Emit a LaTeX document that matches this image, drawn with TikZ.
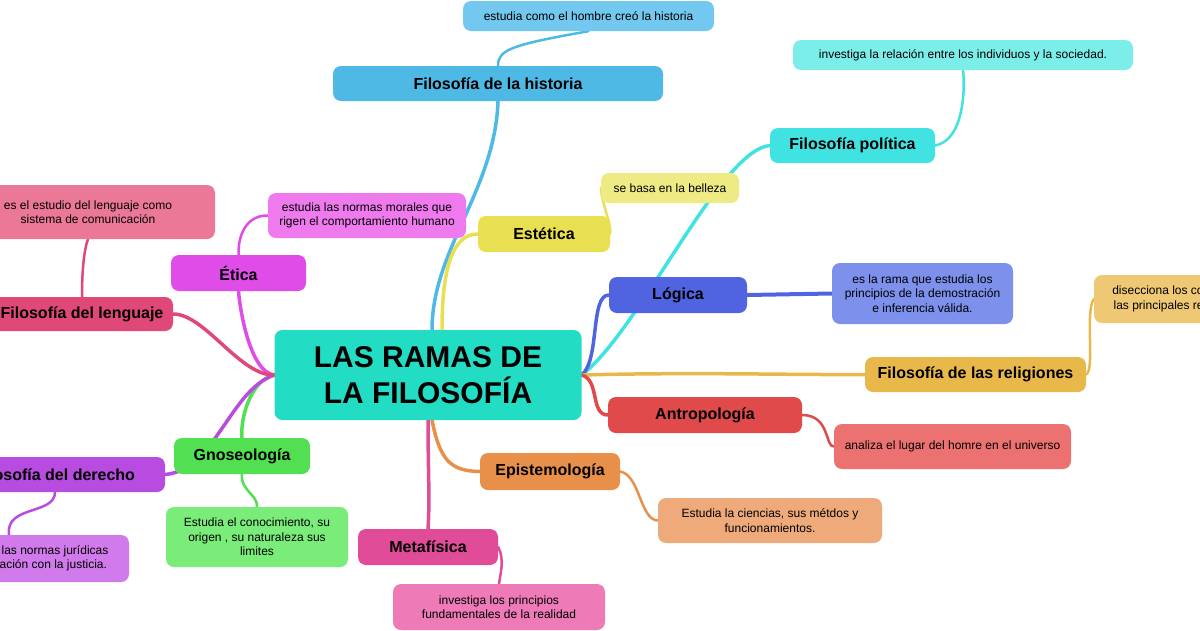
\documentclass[tikz,border=0pt]{standalone}
\usepackage{fontspec}
\setmainfont{Liberation Sans}
\usetikzlibrary{backgrounds}
\begin{document}
\begin{tikzpicture}[x=1pt,y=-1pt,
  box/.style={rounded corners=8pt,align=center,inner sep=2pt},
  br/.style={box,font=\bfseries\fontsize{16}{19}\selectfont},
  lf/.style={box,font=\fontsize{12}{14.5}\selectfont},
  ln/.style={line width=3.5pt,line cap=round},
  lk/.style={line width=2.5pt,line cap=round}]
\useasboundingbox (0,0) rectangle (1200,630);
\clip (0,0) rectangle (1200,630);
\definecolor{cC}{HTML}{22DCC4}
\definecolor{cH}{HTML}{4FB9E6}\definecolor{cHl}{HTML}{72C8EE}
\definecolor{cP}{HTML}{40E2E2}\definecolor{cPl}{HTML}{7CEEEA}
\definecolor{cE}{HTML}{E8E050}\definecolor{cEl}{HTML}{EEEA84}
\definecolor{cL}{HTML}{5064E2}\definecolor{cLl}{HTML}{7C90EC}
\definecolor{cR}{HTML}{E8B84A}\definecolor{cRl}{HTML}{EEC874}
\definecolor{cA}{HTML}{E04A4A}\definecolor{cAl}{HTML}{EC7272}
\definecolor{cS}{HTML}{E8904A}\definecolor{cSl}{HTML}{EEAA7A}
\definecolor{cM}{HTML}{E04C98}\definecolor{cMl}{HTML}{EE7AB8}
\definecolor{cG}{HTML}{52E052}\definecolor{cGl}{HTML}{7AEC7A}
\definecolor{cD}{HTML}{B84CE0}\definecolor{cDl}{HTML}{D07AEC}
\definecolor{cT}{HTML}{E04CE8}\definecolor{cTl}{HTML}{EE7AEE}
\definecolor{cN}{HTML}{E04878}\definecolor{cNl}{HTML}{EC7898}
\node[box,fill=cC,minimum width=307,minimum height=90,font=\bfseries\fontsize{30}{36}\selectfont] (c) at (428,375) {LAS RAMAS DE\\LA FILOSOFÍA};

\node[br,fill=cH,minimum width=330,minimum height=35] (h) at (498,83.5) {Filosofía de la historia};
\node[lf,fill=cHl,minimum width=251,minimum height=30] (hl) at (588.5,16) {estudia como el hombre creó la historia};
\node[br,fill=cP,minimum width=165,minimum height=35] (p) at (852.5,145.5) {Filosofía política};
\node[lf,fill=cPl,minimum width=340,minimum height=30] (pl) at (963,55) {investiga la relación entre los individuos y la sociedad.};
\node[br,fill=cE,minimum width=132,minimum height=36] (e) at (544,234) {Estética};
\node[lf,fill=cEl,minimum width=138,minimum height=30] (el) at (670,188) {se basa en la belleza};
\node[br,fill=cL,minimum width=138,minimum height=36] (l) at (678,295) {Lógica};
\node[lf,fill=cLl,minimum width=181,minimum height=61] (ll) at (922.5,293.5) {es la rama que estudia los\\principios de la demostración\\e inferencia válida.};
\node[br,fill=cR,minimum width=221,minimum height=35] (r) at (975.5,374.5) {Filosofía de las religiones};
\node[lf,fill=cRl,minimum width=170,minimum height=48] (rl) at (1179,299) {disecciona los conceptos\\las principales religiones};
\node[br,fill=cA,minimum width=194,minimum height=36] (a) at (705,415) {Antropología};
\node[lf,fill=cAl,minimum width=237,minimum height=45] (al) at (952.5,446.5) {analiza el lugar del homre en el universo};
\node[br,fill=cS,minimum width=140,minimum height=37] (s) at (550,471.5) {Epistemología};
\node[lf,fill=cSl,minimum width=224,minimum height=45] (sl) at (770,520.5) {Estudia la ciencias, sus métdos y\\funcionamientos.};
\node[br,fill=cM,minimum width=140,minimum height=36] (m) at (428,547) {Metafísica};
\node[lf,fill=cMl,minimum width=212,minimum height=46] (ml) at (499,607) {investiga los principios\\fundamentales de la realidad};
\node[br,fill=cG,minimum width=136,minimum height=36] (g) at (242,456) {Gnoseología};
\node[lf,fill=cGl,minimum width=182,minimum height=60] (gl) at (257,537) {Estudia el conocimiento, su\\origen , su naturaleza sus\\limites};
\node[br,fill=cD,minimum width=220,minimum height=35] (d) at (55,474.5) {Filosofía del derecho};
\node[lf,fill=cDl,minimum width=190,minimum height=47] (dl) at (34,558.5) {estudia las normas jurídicas\\y su relación con la justicia.};
\node[br,fill=cT,minimum width=135,minimum height=36] (t) at (238.5,273) {Ética};
\node[lf,fill=cTl,minimum width=198,minimum height=45] (tl) at (367,215.5) {estudia las normas morales que\\rigen el comportamiento humano};
\node[br,fill=cN,minimum width=182,minimum height=34] (n) at (82,314) {Filosofía del lenguaje};
\node[lf,fill=cNl,minimum width=254,minimum height=54] (nl) at (88,212) {es el estudio del lenguaje como\\sistema de comunicación};

\begin{pgfonlayer}{background}
\draw[ln,cH] ([xshift=4pt]c.north) .. controls (432,250) and (495,190) .. (h.south);
\draw[ln,cE] ([xshift=14pt]c.north) .. controls (442,270) and (452,234) .. (e.west);
\draw[ln,cP] (c.east) .. controls (640,330) and (720,150) .. (p.west);
\draw[ln,cL] (c.east) .. controls (600,360) and (590,295) .. (l.west);
\draw[ln,cR] (c.east) .. controls (700,372) and (780,375) .. (r.west);
\draw[ln,cA] (c.east) .. controls (600,380) and (590,415) .. (a.west);
\draw[ln,cS] ([xshift=4pt]c.south) .. controls (440,460) and (450,471) .. (s.west);
\draw[ln,cM] (c.south) .. controls (428,470) and (430,500) .. (m.north);
\draw[ln,cG] (c.west) .. controls (250,380) and (240,420) .. (g.north);
\draw[ln,cD] (c.west) .. controls (230,390) and (215,470) .. (d.east);
\draw[ln,cT] (c.west) .. controls (250,372) and (240,310) .. (t.south);
\draw[ln,cN] (c.west) .. controls (240,376) and (205,314) .. (n.east);
\draw[lk,cH] (h.north) .. controls (498,50) and (510,45) .. (hl.south);
\draw[lk,cP] (p.east) .. controls (965,140) and (965,85) .. (pl.south);
\draw[lk,cE] (e.east) .. controls (612,225) and (602,205) .. (el.west);
\draw[line width=4pt,cL] (l.east) -- (ll.west);
\draw[lk,cR] (r.east) .. controls (1095,370) and (1085,310) .. (rl.west);
\draw[lk,cA] (a.east) .. controls (830,415) and (825,447) .. (al.west);
\draw[lk,cS] (s.east) .. controls (640,475) and (640,520) .. (sl.west);
\draw[lk,cM] (m.east) .. controls (505,560) and (500,575) .. (ml.north);
\draw[lk,cG] (g.south) .. controls (240,490) and (258,495) .. (gl.north);
\draw[lk,cD] (d.south) .. controls (55,515) and (5,505) .. ([xshift=-25pt]dl.north);
\draw[lk,cT] (t.north) .. controls (238,230) and (250,215) .. (tl.west);
\draw[lk,cN] (n.north) .. controls (82,270) and (84,250) .. (nl.south);
\end{pgfonlayer}
\end{tikzpicture}
\end{document}
